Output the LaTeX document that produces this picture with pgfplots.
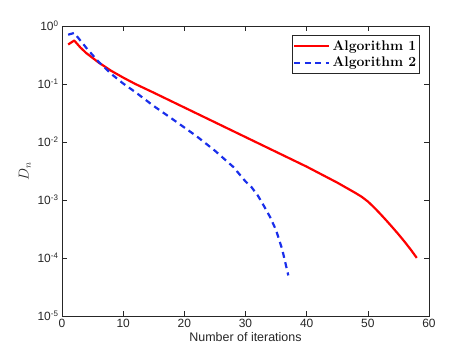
\documentclass[border=0pt]{standalone}
\usepackage{pgfplots}
\pgfplotsset{compat=1.18}
\usepackage{fontspec}
\setsansfont{Liberation Sans}
\definecolor{myblue}{rgb}{0.1,0.18,0.92}
\begin{document}
\begin{tikzpicture}
\begin{axis}[
  at={(0,0)}, anchor=south west,
  scale only axis, width=367bp, height=290bp,
  xmin=0, xmax=60, ymode=log, log basis y=10, ymin=1e-5, ymax=1,
  xtick={0,10,...,60},
  ytick={1e-5,1e-4,1e-3,1e-2,1e-1,1},
  tick align=inside,
  major tick length=5bp, minor tick length=3bp,
  axis line style={black!85, line width=0.6bp},
  every tick/.style={black!85, line width=0.5bp},
  /pgf/number format/assume math mode=true,
  tick label style={font=\sffamily\fontsize{12}{14}\selectfont, text=black!85},
  yticklabel={10\textsuperscript{\pgfmathprintnumber{\tick}}},
  xlabel={Number of iterations},
  xlabel style={font=\sffamily\fontsize{12.5}{14}\selectfont, text=black!85, yshift=2bp},
  ylabel={$D_n$},
  ylabel style={font=\fontsize{14}{16}\selectfont, text=black!85},
  legend style={at={(1,1)}, xshift=-9bp, yshift=-9bp, anchor=north east,
    font=\bfseries\fontsize{14}{16}\selectfont, draw=black!85, line width=0.5bp,
    inner xsep=1.5bp, inner ysep=3bp, row sep=1.5bp},
  legend cell align=left,
  legend image code/.code={\draw[#1] (0bp,0bp) -- (35bp,0bp);},
]
\addplot[red, line width=2.2bp, line join=round] coordinates {
(1,0.479) (2,0.562) (3,0.427) (4,0.339) (5,0.282) (6,0.234) (7,0.200) (8,0.170)
(10,0.129) (12,0.1) (15,0.0708) (20,0.03936) (25,0.02188) (30,0.01216)
(35,0.00676) (40,0.003758) (45,0.001995) (48,0.001318) (49,0.001135)
(50,9.44e-4) (51,7.50e-4) (52,5.82e-4) (53,4.47e-4) (54,3.40e-4)
(55,2.57e-4) (56,1.914e-4) (57,1.403e-4) (58,1.005e-4)
};
\addlegendentry{Algorithm 1}
\addplot[myblue, line width=2.2bp, dash pattern=on 6bp off 4.5bp] coordinates {
(1,0.708) (2,0.759) (3,0.562) (4,0.417) (5,0.316) (6,0.240) (7,0.191)
(8,0.151) (10,0.102) (12,0.0724) (15,0.0417) (18,0.0251) (20,0.0178)
(22,0.0126) (25,0.00708) (28,0.00372) (30,0.00209) (31,0.00166)
(32,0.00120) (33,7.94e-4) (34,5.13e-4) (35,3.02e-4) (36,1.41e-4) (37,5.01e-5)
};
\addlegendentry{Algorithm 2}
\end{axis}
\pgfresetboundingbox
\path[use as bounding box] (-62bp,-39bp) rectangle (412bp,316bp);
\end{tikzpicture}
\end{document}
